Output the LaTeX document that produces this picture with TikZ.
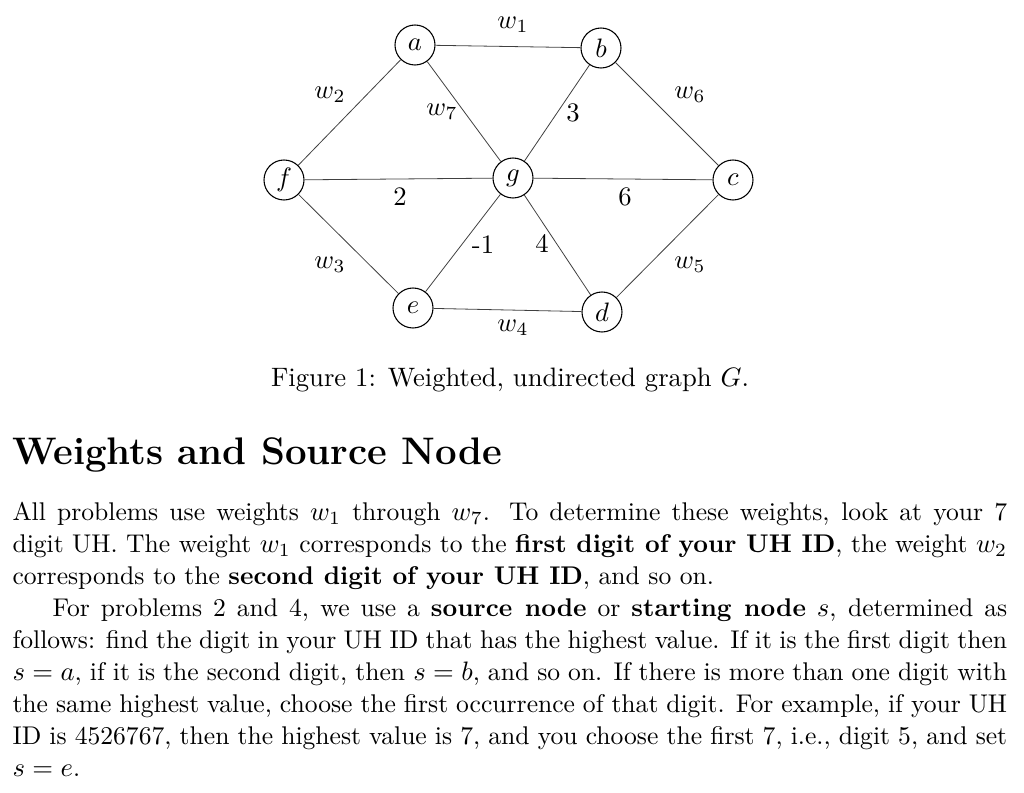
\documentclass[tikz,border=0pt]{standalone}
\usepackage{tikz}
\usetikzlibrary{positioning}
\tikzset{vert/.style={circle, draw, thin, inner sep=0pt, minimum size=15pt},
         edge/.style={draw, black!75, line width=0.3pt}}
\begin{document}
\begin{tikzpicture}[x=0.375pt, y=-0.375pt]
                \useasboundingbox (0,0) rectangle (1024,793);
                \node[vert] (a) at (415, 45) {$a$};
                \node[vert] (b) at (601, 48) {$b$};
                \node[vert] (f) at (284, 180) {$f$};
                \node[vert] (g) at (513, 178) {$g$};
                \node[vert] (c) at (733, 180) {$c$};
                \node[vert] (e) at (413, 308) {$e$};
                \node[vert] (d) at (602, 312) {$d$};

                \draw[edge] (a) -- (b);
                \draw[edge] (a) -- (f);
                \draw[edge] (a) -- (g);
                \draw[edge] (b) -- (g);
                \draw[edge] (b) -- (c);
                \draw[edge] (f) -- (g);
                \draw[edge] (g) -- (c);
                \draw[edge] (f) -- (e);
                \draw[edge] (g) -- (e);
                \draw[edge] (g) -- (d);
                \draw[edge] (c) -- (d);
                \draw[edge] (e) -- (d);

                \node (w1) at (513, 25) {$w_1$};
                \node (w2) at (330, 95) {$w_2$};
                \node (w7) at (442, 112) {$w_7$};
                \node (l3) at (573, 113) {3};
                \node (w6) at (690, 95) {$w_6$};
                \node (l2) at (400, 197) {2};
                \node (l6) at (625, 197) {6};
                \node (lm1) at (483, 245) {-1};
                \node (l4) at (542, 243) {4};
                \node (w3) at (330, 265) {$w_3$};
                \node (w5) at (690, 265) {$w_5$};
                \node (w4) at (513, 328) {$w_4$};

                \node (cap) at (510, 380) {Figure 1: Weighted, undirected graph $G$.};
                \node[anchor=west, inner sep=0pt] (head) at (12, 455) {\Large\bfseries Weights and Source Node};
                \node[anchor=north west, inner sep=0pt, text width=373pt, align=justify] (body) at (12, 502) {%
                  \fontsize{9.6pt}{12pt}\selectfont
                  All problems use weights $w_1$ through $w_7$. To determine these weights, look at your 7
                  digit UH. The weight $w_1$ corresponds to the \textbf{first digit of your UH ID}, the weight $w_2$
                  corresponds to the \textbf{second digit of your UH ID}, and so on.\par
                  \hspace*{15pt}For problems 2 and 4, we use a \textbf{source node} or \textbf{starting node} $s$, determined as
                  follows: find the digit in your UH ID that has the highest value. If it is the first digit then
                  $s=a$, if it is the second digit, then $s=b$, and so on. If there is more than one digit with
                  the same highest value, choose the first occurrence of that digit. For example, if your UH
                  ID is 4526767, then the highest value is 7, and you choose the first 7, i.e., digit 5, and set
                  $s=e$.};
\end{tikzpicture}
\end{document}
